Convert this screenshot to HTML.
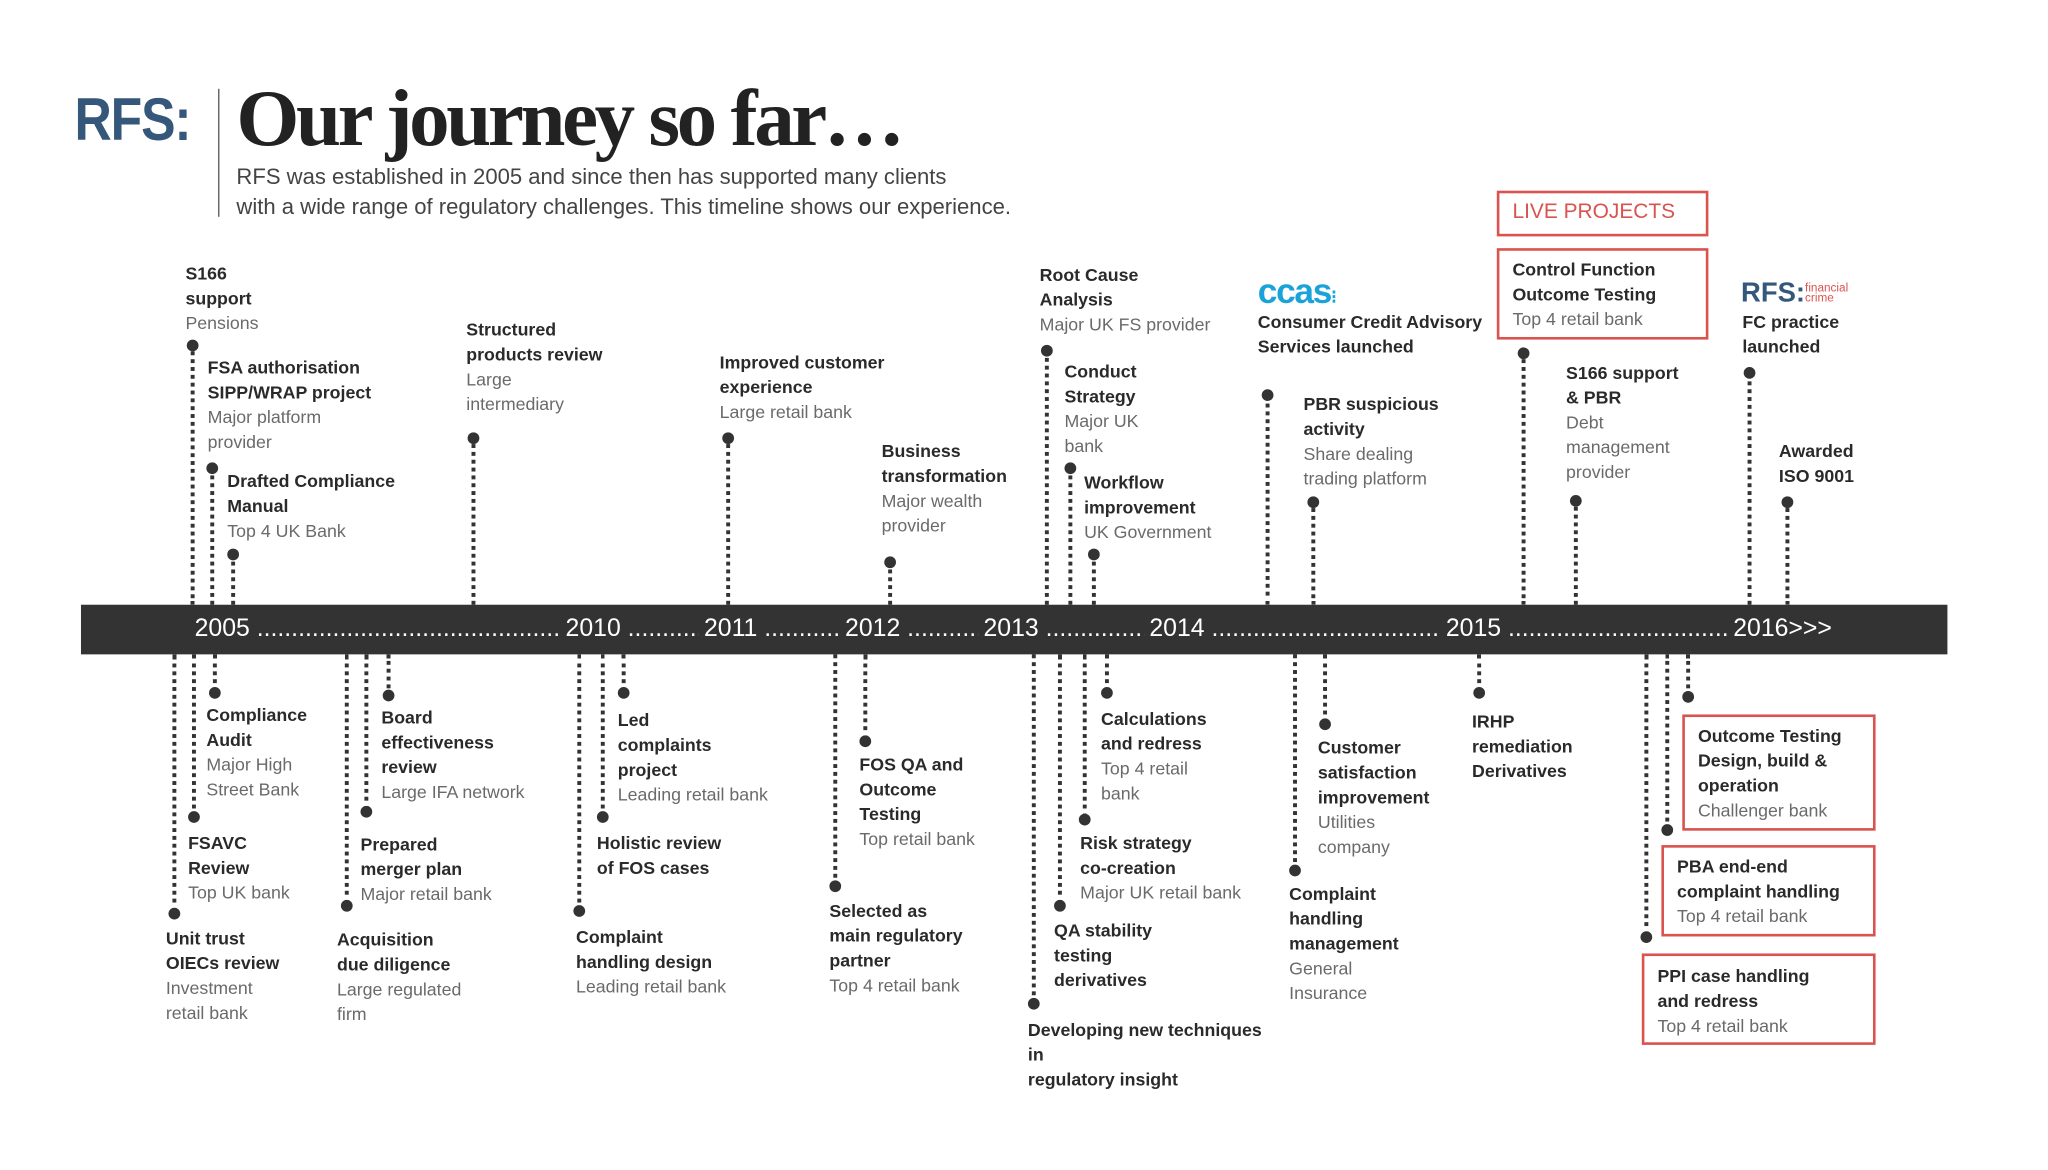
<!DOCTYPE html>
<html><head><meta charset="utf-8">
<style>
html,body{margin:0;padding:0;background:#fff;}
body{width:2048px;height:1170px;overflow:hidden;}
#stage{position:absolute;left:0;top:0;width:1568px;height:896px;transform:scale(1.30612);transform-origin:0 0;font-family:"Liberation Sans",sans-serif;color:#333;}
.a{position:absolute;}
.item{position:absolute;font-size:13.6px;line-height:19px;white-space:nowrap;}
.item b{color:#2a2a2a;font-weight:bold;}
.item span{color:#6a6a6a;display:block;}
.vl{position:absolute;width:0;border-left:3px dotted #333;}
.dot{position:absolute;width:9px;height:9px;border-radius:50%;background:#333;}
.box{position:absolute;border:2px solid #d9534f;box-sizing:border-box;}
.seg{position:absolute;top:471px;height:24px;overflow:hidden;white-space:nowrap;color:#fff;font-size:19px;}
</style></head><body>
<div id="stage">
<div class="a" style="left:57px;top:64px;font-size:46px;font-weight:bold;color:#35577a;transform:scaleX(0.86);transform-origin:0 0;letter-spacing:-1px;">RFS:</div>
<div class="a" style="left:167px;top:68px;width:1px;height:98px;background:#555;"></div>
<div class="a" style="left:181px;top:56px;font-family:'Liberation Serif',serif;font-weight:bold;font-size:62px;letter-spacing:-2.6px;color:#222;">Our journey so far…</div>
<div class="a" style="left:181px;top:124px;font-size:16.9px;line-height:23px;color:#444;">RFS was established in 2005 and since then has supported many clients<br>with a wide range of regulatory challenges. This timeline shows our experience.</div>

<div class="a" style="left:62px;top:463px;width:1429px;height:38px;background:#333;"></div>

<div class="box" style="left:1146px;top:146px;width:162px;height:35px;"></div>
<div class="a" style="left:1158px;top:154px;font-size:16px;color:#d9534f;">LIVE PROJECTS</div>
<div class="box" style="left:1146px;top:190px;width:162px;height:70px;"></div>
<div class="box" style="left:1288px;top:547px;width:148px;height:89px;"></div>
<div class="box" style="left:1272px;top:647px;width:164px;height:70px;"></div>
<div class="box" style="left:1257px;top:730px;width:179px;height:70px;"></div>

<div class="a" style="left:963px;top:208px;font-size:27px;font-weight:bold;color:#1aa3d9;letter-spacing:-1px;">ccas<span style="font-size:14px">⁝</span></div>
<div class="a" style="left:1333px;top:213px;font-size:21px;font-weight:bold;color:#35577a;">RFS:<span style="font-size:9px;color:#d9534f;font-weight:normal;line-height:8px;display:inline-block;vertical-align:top;margin-top:3px">financial<br>crime</span></div>
</div>
<script>
const years=["2005","2010","2011","2012","2013","2014","2015","2016>>>"];
const yearX=[149,433,539,647,753,880,1107,1327];
const topX=[147,162,178,362,557,681,801,819,837,970,1005,1166,1206,1339,1368];
const topDotY=[264,358,424,335,335,430,268,358,424,302,384,270,383,285,384];
const topText=[
[142,200,["S166","support"],["Pensions"]],
[159,272,["FSA authorisation","SIPP/WRAP project"],["Major platform","provider"]],
[174,359,["Drafted Compliance","Manual"],["Top 4 UK Bank"]],
[357,243,["Structured","products review"],["Large","intermediary"]],
[551,268,["Improved customer","experience"],["Large retail bank"]],
[675,336,["Business","transformation"],["Major wealth","provider"]],
[796,201,["Root Cause","Analysis"],["Major UK FS provider"]],
[815,275,["Conduct","Strategy"],["Major UK","bank"]],
[830,360,["Workflow","improvement"],["UK Government"]],
[963,237,["Consumer Credit Advisory","Services launched"],[]],
[998,300,["PBR suspicious","activity"],["Share dealing","trading platform"]],
[1158,197,["Control Function","Outcome Testing"],["Top 4 retail bank"]],
[1199,276,["S166 support","& PBR"],["Debt","management","provider"]],
[1334,237,["FC practice","launched"],[]],
[1362,336,["Awarded","ISO 9001"],[]]];
const botX=[133,148,164,265,280,297,443,461,477,639,662,791,811,830,847,991,1014,1132,1260,1276,1292];
const botDotY=[699,625,530,693,621,532,697,625,530,678,567,768,693,627,530,666,554,530,717,635,533];
const botText=[
[127,709,["Unit trust","OIECs review"],["Investment","retail bank"]],
[144,636,["FSAVC","Review"],["Top UK bank"]],
[158,538,["Compliance","Audit"],["Major High","Street Bank"]],
[258,710,["Acquisition","due diligence"],["Large regulated","firm"]],
[276,637,["Prepared","merger plan"],["Major retail bank"]],
[292,540,["Board","effectiveness","review"],["Large IFA network"]],
[441,708,["Complaint","handling design"],["Leading retail bank"]],
[457,636,["Holistic review","of FOS cases"],[]],
[473,542,["Led","complaints","project"],["Leading retail bank"]],
[635,688,["Selected as","main regulatory","partner"],["Top 4 retail bank"]],
[658,576,["FOS QA and","Outcome","Testing"],["Top retail bank"]],
[787,779,["Developing new techniques","in","regulatory insight"],[]],
[807,703,["QA stability","testing","derivatives"],[]],
[827,636,["Risk strategy","co-creation"],["Major UK retail bank"]],
[843,541,["Calculations","and redress"],["Top 4 retail","bank"]],
[987,675,["Complaint","handling","management"],["General","Insurance"]],
[1009,563,["Customer","satisfaction","improvement"],["Utilities","company"]],
[1127,543,["IRHP","remediation","Derivatives"],[]],
[1269,738,["PPI case handling","and redress"],["Top 4 retail bank"]],
[1284,654,["PBA end-end","complaint handling"],["Top 4 retail bank"]],
[1300,554,["Outcome Testing","Design, build &","operation"],["Challenger bank"]]];
const st=document.getElementById('stage');
function mk(cls,css){const d=document.createElement('div');d.className=cls;d.style.cssText=css;st.appendChild(d);return d;}
function txt(t,i,pre){const d=mk('item','left:'+t[0]+'px;top:'+t[1]+'px;');


d.innerHTML=t[2].map(s=>'<b>'+s+'</b>').join('<br>')+t[3].map(s=>'<span>'+s+'</span>').join('');}
topX.forEach((x,i)=>{const y=topDotY[i];
const l=mk('vl','left:'+(x-1.5)+'px;top:'+y+'px;height:'+(463-y)+'px;');


const d=mk('dot','left:'+(x-4.5)+'px;top:'+(y-4.5)+'px;');


txt(topText[i],i,'top');});
botX.forEach((x,i)=>{const y=botDotY[i];
const l=mk('vl','left:'+(x-1.5)+'px;top:501px;height:'+(y-501)+'px;');


const d=mk('dot','left:'+(x-4.5)+'px;top:'+(y-4.5)+'px;');


txt(botText[i],i,'bottom');});
years.forEach((y,i)=>{const x=yearX[i];const w=(i<years.length-1?yearX[i+1]-x-4:120);
const s=mk('seg','left:'+x+'px;width:'+w+'px;');


s.textContent=y+(i<years.length-1?' '+'.'.repeat(200):'');});
</script>
</body></html>
